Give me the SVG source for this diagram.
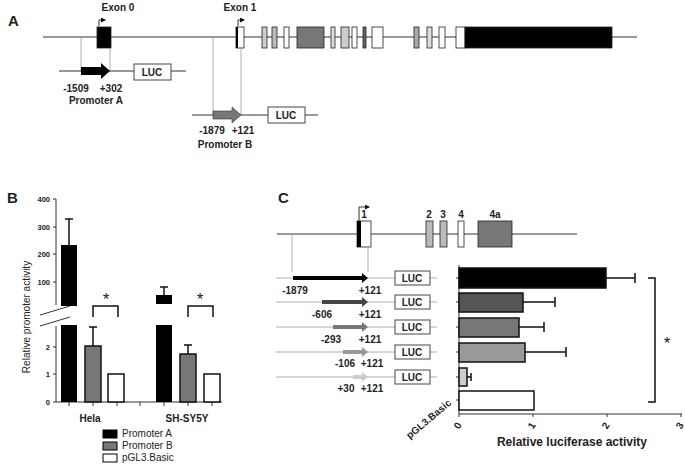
<svg xmlns="http://www.w3.org/2000/svg" width="685" height="466" viewBox="0 0 685 466">
<defs>
<style>
text{font-family:"Liberation Sans",Arial,sans-serif;font-weight:bold;fill:#222}
.t{font-size:10px}
.lab{font-size:15px}
.ln{stroke:#333;stroke-width:1;fill:none}
.gl{stroke:#999;stroke-width:0.8;fill:none}
.ex{stroke:#222;stroke-width:0.8}
.luc{fill:#fff;stroke:#444;stroke-width:1}
.bar{stroke:#111;stroke-width:1.5}
.er{stroke:#111;stroke-width:1.5;fill:none}
.leg{font-size:10px;font-weight:normal}
.star{font-size:17px;font-weight:normal}
</style>
<marker id="ah" markerWidth="5" markerHeight="5" refX="4" refY="2.5" orient="auto" markerUnits="userSpaceOnUse"><path d="M0,0L5,2.5L0,5z" fill="#111"/></marker>
</defs>
<rect width="685" height="466" fill="#fff"/>
<g id="panelA">
<text x="8" y="26" class="lab">A</text>
<line x1="43" y1="37" x2="637" y2="37" class="ln"/>
<text x="118" y="11" class="t" text-anchor="middle">Exon 0</text>
<text x="240" y="11" class="t" text-anchor="middle">Exon 1</text>
<path d="M99,26V20H105" class="ln" marker-end="url(#ah)"/>
<path d="M238,26V20H244" class="ln" marker-end="url(#ah)"/>
<rect x="97" y="27" width="14" height="21" fill="#000" class="ex"/>
<rect x="236" y="27" width="8" height="21" fill="#fff" class="ex"/>
<rect x="236" y="27" width="2" height="21" fill="#000"/>
<g class="ex">
<rect x="262" y="27" width="5" height="21" fill="#ccc"/>
<rect x="272" y="27" width="5" height="21" fill="#bbb"/>
<rect x="284" y="27" width="5" height="21" fill="#fff"/>
<rect x="297" y="27" width="27" height="21" fill="#777"/>
<rect x="331" y="27" width="4" height="21" fill="#ddd"/>
<rect x="341" y="27" width="8" height="21" fill="#ccc"/>
<rect x="352" y="27" width="5" height="21" fill="#fff"/>
<rect x="363" y="27" width="3" height="21" fill="#666"/>
<rect x="372" y="27" width="11" height="21" fill="#fff"/>
<rect x="414" y="27" width="5" height="21" fill="#aaa"/>
<rect x="427" y="27" width="5" height="21" fill="#ddd"/>
<rect x="439" y="27" width="6" height="21" fill="#fff"/>
<rect x="456" y="27" width="9" height="21" fill="#fff"/>
<rect x="465" y="27" width="147" height="21" fill="#000"/>
</g>
<line x1="81" y1="37" x2="81" y2="71" class="gl"/>
<line x1="110" y1="48" x2="110" y2="71" class="gl"/>
<line x1="59" y1="71" x2="186" y2="71" class="ln"/>
<path d="M81,67H101V63L110,71L101,79V75H81z" fill="#000"/>
<rect x="134" y="64" width="37" height="16" class="luc"/>
<text x="152" y="76" class="t" text-anchor="middle">LUC</text>
<text x="76" y="92" class="t" text-anchor="middle">-1509</text>
<text x="111" y="92" class="t" text-anchor="middle">+302</text>
<text x="96" y="104" class="t" text-anchor="middle">Promoter A</text>
<line x1="213" y1="37" x2="213" y2="115" class="gl"/>
<line x1="241" y1="48" x2="241" y2="115" class="gl"/>
<line x1="192" y1="115" x2="318" y2="115" class="ln"/>
<path d="M213,111H232V107L241,115L232,123V119H213z" fill="#777" stroke="#333" stroke-width="0.6"/>
<rect x="268" y="107" width="37" height="16" class="luc"/>
<text x="286" y="119" class="t" text-anchor="middle">LUC</text>
<text x="212" y="134" class="t" text-anchor="middle">-1879</text>
<text x="243" y="134" class="t" text-anchor="middle">+121</text>
<text x="225" y="148" class="t" text-anchor="middle">Promoter B</text>
</g>
<g id="panelB">
<text x="7" y="203" class="lab">B</text>
<g class="ln">
<path d="M56,199V305M56,326V402H222"/>
<path d="M53,199H56M53,227H56M53,254H56M53,282H56M53,347H56M53,374H56M53,402H56"/>
<path d="M40,315L70,306M40,326L70,317"/>
<path d="M69,402v4M93,402v4M117,402v4M140,402v4M164,402v4M188,402v4M212,402v4"/>
</g>
<g style="font-size:7.5px">
<text x="50" y="202" text-anchor="end">400</text>
<text x="50" y="230" text-anchor="end">300</text>
<text x="50" y="257" text-anchor="end">200</text>
<text x="50" y="285" text-anchor="end">100</text>
<text x="50" y="350" text-anchor="end">2</text>
<text x="50" y="377" text-anchor="end">1</text>
<text x="50" y="405" text-anchor="end">0</text>
</g>
<text transform="translate(30,317) rotate(-90)" class="t" text-anchor="middle" style="font-weight:normal">Relative promoter activity</text>
<rect x="61" y="245" width="16" height="61" fill="#000"/>
<rect x="61" y="325" width="16" height="77" fill="#000"/>
<path d="M69,245V219M65,219H73" class="er"/>
<rect x="85" y="346" width="16" height="56" fill="#777" class="bar"/>
<path d="M93,346V327M89,327H97" class="er"/>
<rect x="108" y="374" width="16" height="28" fill="#fff" class="bar"/>
<rect x="156" y="295" width="16" height="9" fill="#000"/>
<rect x="156" y="325" width="16" height="77" fill="#000"/>
<path d="M164,295V287M160,287H168" class="er"/>
<rect x="180" y="354" width="16" height="48" fill="#777" class="bar"/>
<path d="M188,354V345M184,345H192" class="er"/>
<rect x="204" y="374" width="16" height="28" fill="#fff" class="bar"/>
<path d="M93,317V306H118V317M188,317V306H213V317" class="er" stroke-width="1"/>
<text x="106" y="305" text-anchor="middle" class="star">*</text>
<text x="200" y="305" text-anchor="middle" class="star">*</text>
<text x="90" y="422" class="t" text-anchor="middle">Hela</text>
<text x="187" y="422" class="t" text-anchor="middle">SH-SY5Y</text>
<rect x="103" y="430" width="14" height="8" fill="#000" stroke="#000"/>
<rect x="103" y="442" width="14" height="8" fill="#777" stroke="#000"/>
<rect x="103" y="454" width="14" height="8" fill="#fff" stroke="#000"/>
<text x="122" y="437" class="leg">Promoter A</text>
<text x="122" y="449" class="leg">Promoter B</text>
<text x="122" y="461" class="leg">pGL3.Basic</text>
</g>
<g id="panelC">
<text x="278" y="203" class="lab">C</text>
<line x1="277" y1="234" x2="577" y2="234" class="ln"/>
<path d="M359,221V207H369" class="ln" marker-end="url(#ah)"/>
<rect x="357" y="221" width="14" height="26" fill="#fff" class="ex"/>
<rect x="357" y="221" width="4" height="26" fill="#000"/>
<rect x="426" y="221" width="7" height="26" fill="#bbb" class="ex"/>
<rect x="440" y="221" width="7" height="26" fill="#bbb" class="ex"/>
<rect x="458" y="221" width="6" height="26" fill="#fff" class="ex"/>
<rect x="478" y="221" width="34" height="26" fill="#777" class="ex"/>
<g class="t" text-anchor="middle">
<text x="364" y="218">1</text><text x="429" y="218">2</text><text x="443" y="218">3</text><text x="461" y="218">4</text><text x="495" y="218">4a</text>
</g>
<line x1="292" y1="234" x2="292" y2="272" class="gl"/>
<line x1="368" y1="247" x2="368" y2="272" class="gl"/>
<g class="gl" stroke-width="1">
<path d="M276,278H437M276,302H437M276,327H437M276,352H437M276,377H437"/>
</g>
<path d="M293,276H362V273L368,278L362,283V280H293z" fill="#000"/>
<path d="M322,300H362V297L368,302L362,307V304H322z" fill="#444"/>
<path d="M333,325H362V322L368,327L362,332V329H333z" fill="#777"/>
<path d="M343,350H362V347L368,352L362,357V354H343z" fill="#999"/>
<path d="M353,375H362V372L368,377L362,382V379H353z" fill="#ccc"/>
<g>
<rect x="395" y="271" width="35" height="14" class="luc" stroke="#888"/>
<rect x="395" y="295" width="35" height="14" class="luc" stroke="#888"/>
<rect x="395" y="320" width="35" height="14" class="luc" stroke="#888"/>
<rect x="395" y="345" width="35" height="14" class="luc" stroke="#888"/>
<rect x="395" y="370" width="35" height="14" class="luc" stroke="#888"/>
</g>
<g class="t" text-anchor="middle">
<text x="412" y="282">LUC</text><text x="412" y="306">LUC</text><text x="412" y="331">LUC</text><text x="412" y="356">LUC</text><text x="412" y="381">LUC</text>
<text x="295" y="294">-1879</text><text x="370" y="294">+121</text>
<text x="322" y="318">-606</text><text x="370" y="318">+121</text>
<text x="331" y="343">-293</text><text x="370" y="343">+121</text>
<text x="345" y="367">-106</text><text x="372" y="367">+121</text>
<text x="346" y="392">+30</text><text x="372" y="392">+121</text>
</g>
<g class="ln">
<path d="M459,265V414H682"/>
<path d="M456,278H459M456,302H459M456,327H459M456,352H459M456,377H459M456,400H459"/>
<path d="M459,414v3M533,414v3M607,414v3M681,414v3"/>
</g>
<rect x="459" y="268" width="147" height="20" fill="#000" class="bar"/>
<path d="M606,278H635M635,273V283" class="er"/>
<rect x="459" y="293" width="64" height="19" fill="#555" class="bar"/>
<path d="M523,302H555M555,297V307" class="er"/>
<rect x="459" y="318" width="60" height="19" fill="#777" class="bar"/>
<path d="M519,327H544M544,322V332" class="er"/>
<rect x="459" y="343" width="66" height="19" fill="#999" class="bar"/>
<path d="M525,352H566M566,347V357" class="er"/>
<rect x="459" y="368" width="8" height="18" fill="#ccc" class="bar"/>
<path d="M467,377H471M471,373V381" class="er"/>
<rect x="459" y="391" width="75" height="19" fill="#fff" class="bar"/>
<path d="M648,278H655V402H648" class="er" stroke-width="1"/>
<text x="667" y="349" text-anchor="middle" class="star">*</text>
<g class="t">
<text transform="translate(462,425) rotate(-60)" text-anchor="end">0</text>
<text transform="translate(536,425) rotate(-60)" text-anchor="end">1</text>
<text transform="translate(610,425) rotate(-60)" text-anchor="end">2</text>
<text transform="translate(684,425) rotate(-60)" text-anchor="end">3</text>
<text transform="translate(452,404) rotate(-40)" text-anchor="end">pGL3.Basic</text>
</g>
<text x="572" y="446" text-anchor="middle" style="font-size:12px">Relative luciferase activity</text>
</g>
</svg>
